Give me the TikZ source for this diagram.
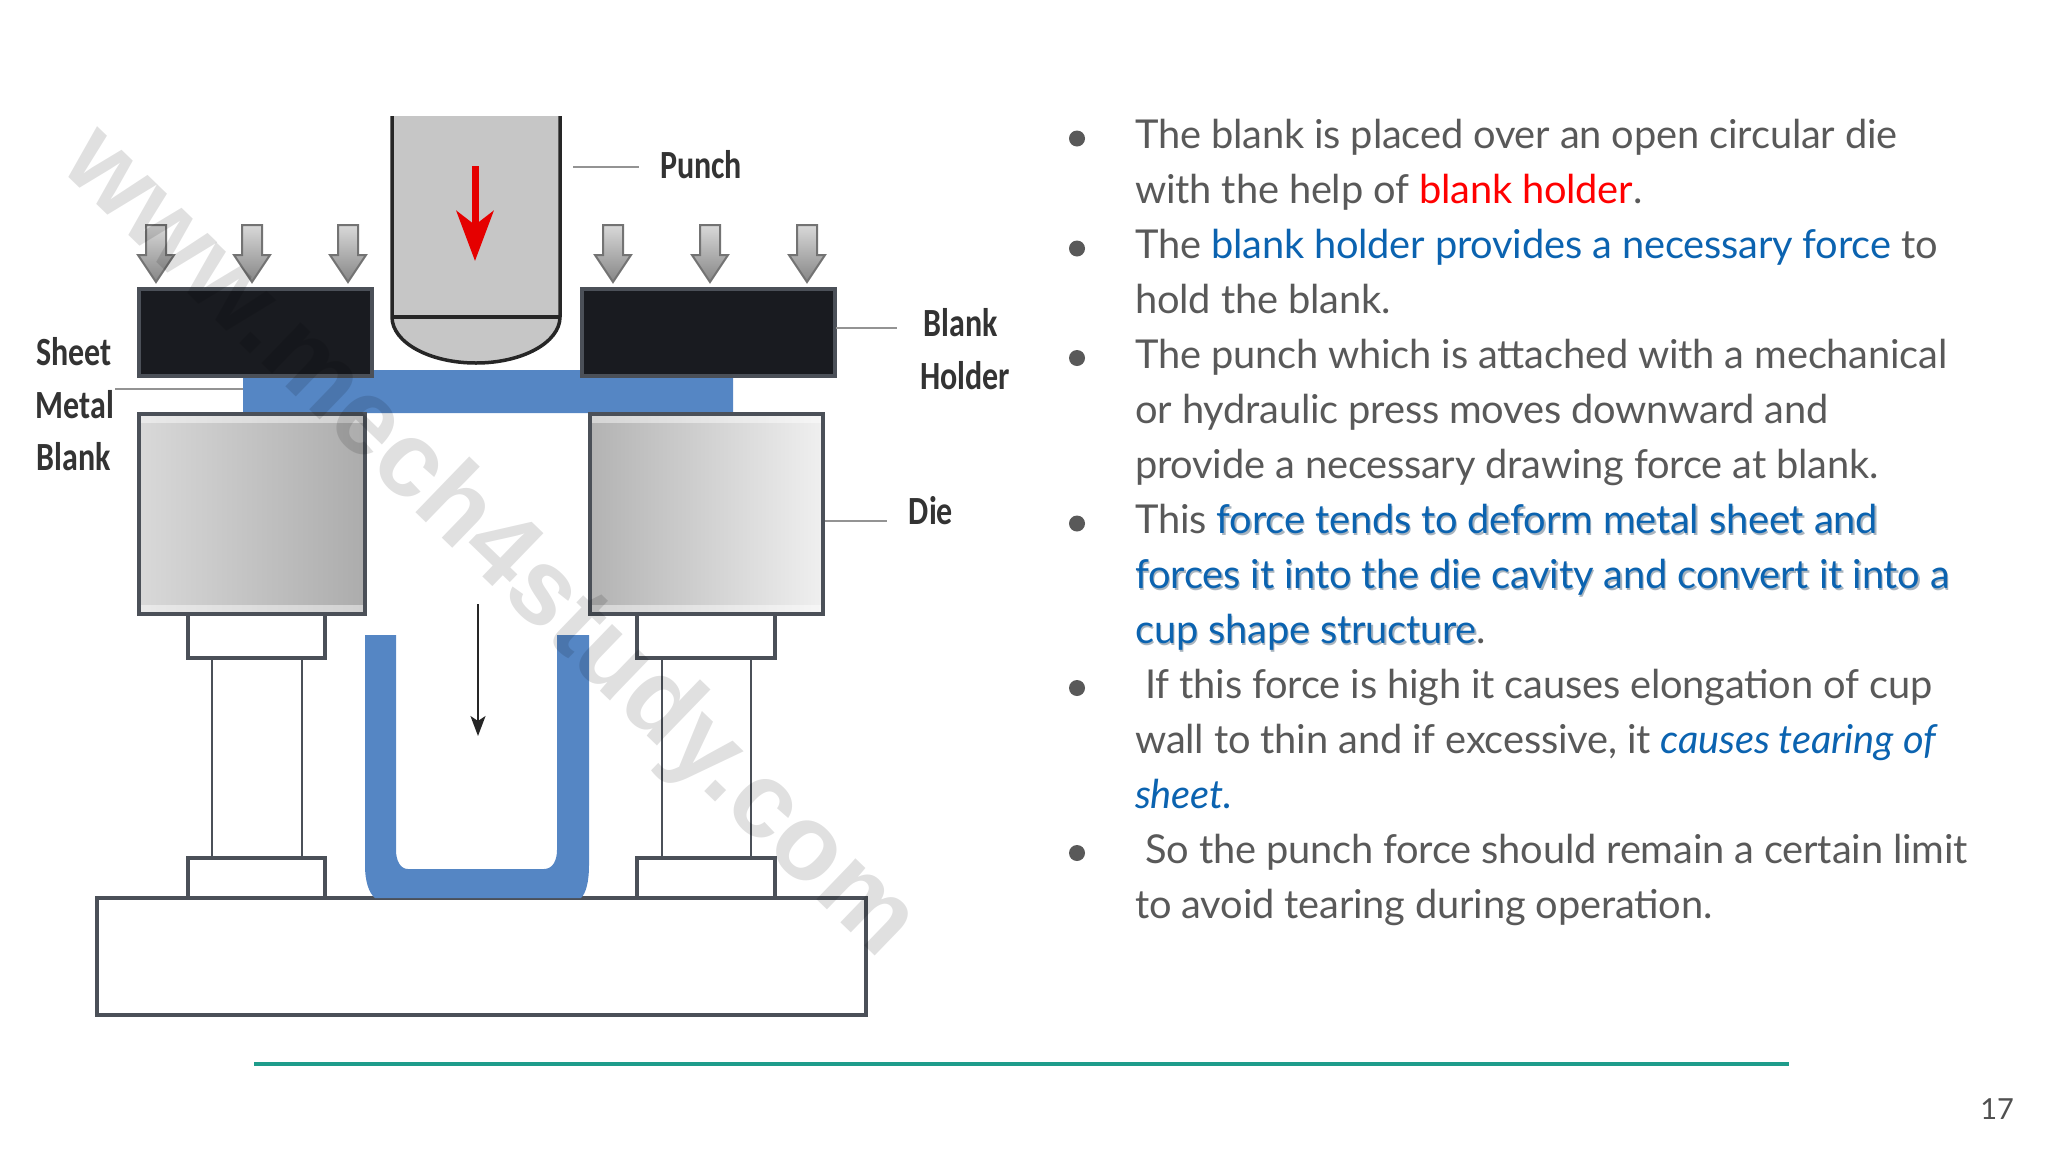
\documentclass[tikz,border=0pt]{standalone}
\usepackage{fontspec}
\setmainfont{Lato}[LetterSpace=-0.5]
\newfontfamily\labelfont{Carlito}
\newfontfamily\markfont{Liberation Sans}
\usetikzlibrary{arrows.meta}

\definecolor{bodygray}{HTML}{595959}
\definecolor{linkblue}{HTML}{0B63B0}
\definecolor{softgray}{HTML}{A9B4BE}
\definecolor{edgegray}{HTML}{4B5058}
\definecolor{holderblack}{HTML}{191B20}
\definecolor{blankblue}{HTML}{5586C4}
\definecolor{tealrule}{HTML}{1E9C8B}

\newcommand{\softshadow}[1]{\rlap{\textcolor{softgray}{\raisebox{-1.5pt}{\kern1.5pt #1}}}#1}
\newcommand{\narrowtext}[1]{\scalebox{0.8}[1]{#1}}
\newcommand{\holdarrow}[1]{%
  \draw[holdarrowstyle] (#1-10,225) -- (#1+10,225) -- (#1+10,255) -- (#1+18,255)
      -- (#1,282) -- (#1-18,255) -- (#1-10,255) -- cycle;}

\tikzset{
  partedge/.style={draw=edgegray, line width=3.5pt},
  holdarrowstyle/.style={draw=gray!90!black, line width=2pt, top color=gray!30, bottom color=gray!95},
  leader/.style={draw=gray!85, line width=2pt},
  partlabel/.style={inner sep=0pt, text=black!80, font=\labelfont\bfseries\fontsize{40}{42}\selectfont},
  bodyline/.style={anchor=base west, inner sep=0pt, text=bodygray, font=\fontsize{39.8}{48}\selectfont},
  dotmark/.style={fill=bodygray},
}

\begin{document}
\begin{tikzpicture}[x=1pt, y=-1pt]
  \useasboundingbox (0,0) rectangle (2048,1152);

  % Sheet metal blank
  \fill[blankblue] (243,377) -- (372,377) -- (372,370) -- (581,370) -- (581,377)
      -- (733,377) -- (733,413) -- (243,413) -- cycle;

  % Punch
  \fill[gray!45] (392,116) -- (392,317) arc[start angle=180, end angle=360, x radius=84, y radius=-46]
      -- (560,116) -- cycle;
  \draw[line width=3.5pt, black!85] (392,116) -- (392,317) arc[start angle=180, end angle=360, x radius=84, y radius=-46]
      -- (560,116);
  \draw[line width=3.5pt, black!85] (392,317) -- (560,317);

  % Punch direction
  \coordinate (punchtop) at (475,166);
  \coordinate (punchtip) at (475,261);
  \draw[-{Stealth[length=50pt, width=37pt, inset=14pt]}, red!90!black, line width=7pt] (punchtop) -- (punchtip);

  % Blank holder forces
  \holdarrow{156}
  \holdarrow{252}
  \holdarrow{348}
  \holdarrow{613}
  \holdarrow{710}
  \holdarrow{807}

  % Blank holder
  \draw[fill=holderblack, draw=edgegray, line width=4pt] (139,289) rectangle (372,376);
  \draw[fill=holderblack, draw=edgegray, line width=4pt] (582,289) rectangle (835,376);

  % Die
  \draw[partedge, left color=gray!30, right color=gray!65] (139,414) rectangle (365,614);
  \draw[partedge, left color=gray!60, right color=gray!12] (590,414) rectangle (823,614);
  \fill[white, opacity=0.45] (141,416) rectangle (363,423);
  \fill[white, opacity=0.45] (141,605) rectangle (363,612);
  \fill[white, opacity=0.45] (592,416) rectangle (821,423);
  \fill[white, opacity=0.45] (592,605) rectangle (821,612);

  % Die supports, left
  \draw[partedge, fill=white] (188,614) rectangle (325,658);
  \draw[edgegray, line width=2.2pt] (212,658) -- (212,857);
  \draw[edgegray, line width=2.2pt] (302,658) -- (302,857);
  \draw[partedge, fill=white] (188,858) rectangle (325,898);

  % Die supports, right
  \draw[partedge, fill=white] (637,614) rectangle (775,658);
  \draw[edgegray, line width=2.2pt] (662,658) -- (662,857);
  \draw[edgegray, line width=2.2pt] (751,658) -- (751,857);
  \draw[partedge, fill=white] (637,858) rectangle (775,898);

  % Base
  \draw[partedge] (97,898) rectangle (866,1015);

  % Drawn cup
  \fill[blankblue] (365,635) -- (365,865) .. controls (365,882) and (369,893) .. (375,898)
      -- (581,898) .. controls (586,893) and (589,882) .. (589,865) -- (589,635)
      -- (557,635) -- (557,850) .. controls (557,860) and (553,869) .. (544,869)
      -- (408,869) .. controls (400,869) and (396,860) .. (396,850) -- (396,635) -- cycle;

  % Cup direction
  \coordinate (cuptop) at (478,604);
  \coordinate (cuptip) at (478,736);
  \draw[-{Stealth[length=20pt, width=15pt, inset=5pt]}, black!85, line width=2.2pt] (cuptop) -- (cuptip);

  % Watermark
  \node[rotate=-44, inner sep=0pt, text=black, text opacity=0.12, font=\markfont\bfseries\fontsize{107}{110}\selectfont]
      (watermark) at (488,544) {www.mech4study.com};

  % Labels and leaders
  \node[partlabel] (punchlabel) at (701,165) {\narrowtext{Punch}};
  \coordinate (punchlead) at (573,167);
  \coordinate (punchend) at (639,167);
  \draw[leader] (punchlead) -- (punchend);

  \node[partlabel] (blanklabel) at (961,323) {\narrowtext{Blank}};
  \node[partlabel] (holderlabel) at (965,376) {\narrowtext{Holder}};
  \coordinate (holderlead) at (836,328);
  \coordinate (holderend) at (897,328);
  \draw[leader] (holderlead) -- (holderend);

  \node[partlabel] (dielabel) at (931,511) {\narrowtext{Die}};
  \coordinate (dielead) at (825,521);
  \coordinate (dieend) at (887,521);
  \draw[leader] (dielead) -- (dieend);

  \node[partlabel] (sheetlabel) at (74,352) {\narrowtext{Sheet}};
  \node[partlabel] (metallabel) at (75,405) {\narrowtext{Metal}};
  \node[partlabel] (blankside) at (74,457) {\narrowtext{Blank}};
  \coordinate (sheetlead) at (115,389);
  \coordinate (sheetend) at (243,389);
  \draw[leader] (sheetlead) -- (sheetend);

  % Bullets
  \fill[dotmark] (1077,138.5) circle (8);
  \fill[dotmark] (1077,248.5) circle (8);
  \fill[dotmark] (1077,358) circle (8);
  \fill[dotmark] (1077,523.5) circle (8);
  \fill[dotmark] (1077,688) circle (8);
  \fill[dotmark] (1077,853) circle (8);

  % Body text
  \node[bodyline] (line1) at (1135,148.7) {The blank is placed over an open circular die};
  \node[bodyline] (line2) at (1135,203.7) {with the help of \textcolor{red}{blank holder}.};
  \node[bodyline] (line3) at (1135,258.7) {The \textcolor{linkblue}{blank holder provides a necessary force} to};
  \node[bodyline] (line4) at (1135,313.7) {hold the blank.};
  \node[bodyline] (line5) at (1135,368.7) {The punch which is attached with a mechanical};
  \node[bodyline] (line6) at (1135,423.7) {or hydraulic press moves downward and};
  \node[bodyline] (line7) at (1135,478.7) {provide a necessary drawing force at blank.};
  \node[bodyline] (line8) at (1135,533.7) {This \textcolor{linkblue}{\softshadow{force tends to deform metal sheet and}}};
  \node[bodyline] (line9) at (1135,588.7) {\textcolor{linkblue}{\softshadow{forces it into the die cavity and convert it into a}}};
  \node[bodyline] (line10) at (1135,643.7) {\textcolor{linkblue}{\softshadow{cup shape structure}}.};
  \node[bodyline] (line11) at (1135,698) {\ If this force is high it causes elongation of cup};
  \node[bodyline] (line12) at (1135,753) {wall to thin and if excessive, it \textcolor{linkblue}{\itshape causes tearing of}};
  \node[bodyline] (line13) at (1135,808) {\textcolor{linkblue}{\itshape sheet.}};
  \node[bodyline] (line14) at (1135,863) {\ So the punch force should remain a certain limit};
  \node[bodyline] (line15) at (1135,918) {to avoid tearing during operation.};

  % Footer rule and page number
  \coordinate (ruleleft) at (254,1064);
  \coordinate (ruleright) at (1789,1064);
  \draw[tealrule, line width=4pt] (ruleleft) -- (ruleright);
  \node[anchor=base east, inner sep=0pt, text=bodygray!90!black, font=\fontsize{29}{30}\selectfont] (pagenum) at (2014,1119) {17};
\end{tikzpicture}
\end{document}
